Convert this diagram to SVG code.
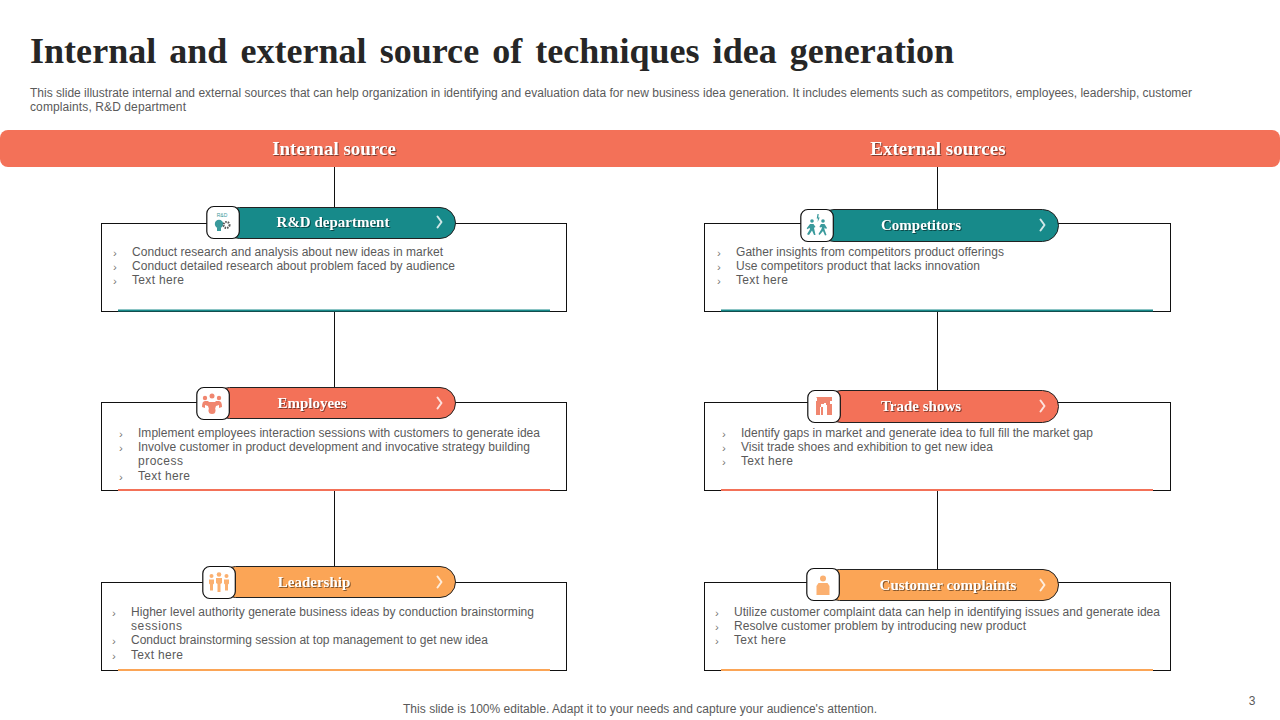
<svg xmlns="http://www.w3.org/2000/svg" width="1280" height="720" viewBox="0 0 1280 720">
<style>
.b{font-family:"Liberation Sans",Arial,sans-serif;font-size:12px;fill:#5a5a5a}
.s{font-family:"Liberation Sans",Arial,sans-serif;font-size:11.500px;fill:#777}
.h{font-family:"Liberation Serif","Times New Roman",serif;font-weight:700;fill:#fff;text-anchor:middle;filter:drop-shadow(1px 1px .7px #0007)}
.hh{font-size:19px}.hp{font-size:15px}
.c{fill:none;stroke:#fff;stroke-opacity:.8;stroke-width:2;stroke-linecap:round;stroke-linejoin:round}
.box{fill:#fff;stroke:#111;stroke-width:1}
.pill{stroke:#222;stroke-width:1}
.ib{fill:#fff;stroke:#111;stroke-width:1.200}
.con{stroke:#111;stroke-width:1;fill:none}
.teal{fill:#178A8A}.red{fill:#F37158}.org{fill:#FBA556}
.tealicon{fill:#3a9a9c}.redicon{fill:#f0866f}.orgicon{fill:#fbb070}
</style>
<rect width="1280" height="720" fill="#fff"/>
<text x="30" y="63" font-family="Liberation Serif,serif" font-weight="700" font-size="36" fill="#262626" word-spacing="4" textLength="924" lengthAdjust="spacing">Internal and external source of techniques idea generation</text>
<text x="30" y="97" class="b" textLength="1162">This slide illustrate internal and external sources that can help organization in identifying and evaluation data for new business idea generation. It includes elements such as competitors, employees, leadership, customer</text>
<text x="30" y="111" class="b" textLength="156">complaints, R&amp;D department</text>
<rect id="header-bar" x="0" y="130" width="1280" height="37" rx="8" class="red"/>
<text x="334" y="155" class="h hh">Internal source</text>
<text x="938" y="155" class="h hh">External sources</text>
<g id="connectors">
<path class="con" d="M334.500 167V207M334.500 312V387M334.500 491V567M937.500 167V209M937.500 312V390M937.500 491V569"/>
</g>

<g id="rd">
<rect class="box" x="101.500" y="223.500" width="465" height="88"/>
<rect x="118" y="309.500" width="432" height="2" class="teal"/>
<rect class="pill teal" x="224" y="207.500" width="231.500" height="31" rx="15.500"/>
<rect class="ib" x="206.800" y="206.500" width="32.500" height="32" rx="7"/>
<text x="222" y="216.500" font-family="Liberation Sans,sans-serif" font-size="5" fill="#3a9a9c" text-anchor="middle">R&amp;D</text>
<circle cx="219" cy="224" r="4.200" class="tealicon"/><rect x="217" y="228" width="4" height="3" class="tealicon"/><circle cx="226.500" cy="225" r="3" fill="none" stroke="#555" stroke-width="2" stroke-dasharray="1.500 1"/>
<text x="333" y="227" class="h hp">R&amp;D department</text>
<path class="c" d="M437.500 216.500l4 5.500-4 5.500"/>
<text x="113" y="257" class="s">›</text><text x="113" y="271" class="s">›</text><text x="113" y="285" class="s">›</text>
<text x="132" y="256" class="b" textLength="311">Conduct research and analysis about new ideas in market</text>
<text x="132" y="270" class="b" textLength="323">Conduct detailed research about problem faced by audience</text>
<text x="132" y="284" class="b" textLength="52">Text here</text>
</g>

<g id="employees">
<rect class="box" x="101.500" y="402.500" width="465" height="88"/>
<rect x="118" y="489" width="432" height="2" class="red"/>
<rect class="pill red" x="214" y="387.500" width="241.500" height="31" rx="15.500"/>
<rect class="ib" x="196.800" y="387.500" width="32.500" height="32" rx="7"/>
<g class="redicon"><circle cx="212" cy="396" r="2.500"/><circle cx="205" cy="398" r="2.200"/><circle cx="219" cy="398" r="2.200"/>
<path d="M202 407q0-6 3-6h3l1 1h6l1-1h3q3 0 3 6l-3 1v-3l-3 1-1 3h-6l-1-3-3-1v3z"/><circle cx="212" cy="410.500" r="3.500"/></g>
<text x="312" y="408" class="h hp">Employees</text>
<path class="c" d="M437.500 397.500l4 5.500-4 5.500"/>
<text x="119" y="438" class="s">›</text><text x="119" y="452" class="s">›</text><text x="119" y="481" class="s">›</text>
<text x="138" y="437" class="b" textLength="402">Implement employees interaction sessions with customers to generate idea</text>
<text x="138" y="451" class="b" textLength="392">Involve customer in product development and invocative strategy building</text>
<text x="138" y="465" class="b" textLength="45">process</text>
<text x="138" y="480" class="b" textLength="52">Text here</text>
</g>

<g id="leadership">
<rect class="box" x="101.500" y="582.500" width="465" height="88"/>
<rect x="118" y="669" width="432" height="2" class="org"/>
<rect class="pill org" x="220" y="566.500" width="235.500" height="31" rx="15.500"/>
<rect class="ib" x="202.800" y="566.500" width="32.500" height="32" rx="7"/>
<g class="orgicon"><circle cx="219" cy="574.500" r="2.300"/><circle cx="211.500" cy="576" r="2"/><circle cx="226.500" cy="576" r="2"/><path d="M216 578h6v5l-1.500 1v8h-3v-8l-1.500-1zM209 579.500h5v4l-1 1v6h-3v-6l-1-1zM224 579.500h5v4l-1 1v6h-3v-6l-1-1z"/></g>
<text x="314" y="587" class="h hp">Leadership</text>
<path class="c" d="M437.500 576.500l4 5.500-4 5.500"/>
<text x="112" y="617" class="s">›</text><text x="112" y="645" class="s">›</text><text x="112" y="660" class="s">›</text>
<text x="131" y="616" class="b" textLength="403">Higher level authority generate business ideas by conduction brainstorming</text>
<text x="131" y="630" class="b" textLength="51">sessions</text>
<text x="131" y="644" class="b" textLength="357">Conduct brainstorming session at top management to get new idea</text>
<text x="131" y="659" class="b" textLength="52">Text here</text>
</g>

<g id="competitors">
<rect class="box" x="704.500" y="223.500" width="466" height="88"/>
<rect x="721" y="309.500" width="432" height="2" class="teal"/>
<rect class="pill teal" x="818" y="209.500" width="240.500" height="32" rx="16"/>
<rect class="ib" x="800.800" y="209.500" width="32.500" height="32" rx="7"/>
<g class="tealicon"><path d="M817.500 214l1.200 0-.4 3.500 1.400 0-2 4.500.2-3.500h-1.200z"/><circle cx="812" cy="221" r="1.800"/><circle cx="823" cy="221" r="1.800"/><path d="M810 224l3.500 0 2 3-1.500.8 .5 2.500 1 4.700h-1.500l-2-4.500-3 4.500-2-.8 3-5-.5-1.500-2 1.500-.8-1zM821 224l3.500 0 2.500 4-1 1-1.500-1.500 0 2 2 5.500-1.500.5-2-4.500-3.500 4-1-1 3-5 .5-2-2 .5-.5-1z"/></g>
<text x="921" y="230" class="h hp">Competitors</text>
<path class="c" d="M1040.500 219.500l4 5.500-4 5.500"/>
<text x="717" y="257" class="s">›</text><text x="717" y="271" class="s">›</text><text x="717" y="285" class="s">›</text>
<text x="736" y="256" class="b" textLength="268">Gather insights from competitors product offerings</text>
<text x="736" y="270" class="b" textLength="244">Use competitors product that lacks innovation</text>
<text x="736" y="284" class="b" textLength="52">Text here</text>
</g>

<g id="trade-shows">
<rect class="box" x="704.500" y="402.500" width="466" height="88"/>
<rect x="721" y="489" width="432" height="2" class="red"/>
<rect class="pill red" x="825" y="390.500" width="233.500" height="32" rx="16"/>
<rect class="ib" x="807.800" y="390.500" width="32.500" height="32" rx="7"/>
<path class="redicon" d="M816 397h16v4h-2v3h2v11h-5v-10h-1v-2h-2v1h-3v11h-5v-14h1v-3zM820 407h3v8h-3z" fill-rule="evenodd"/>
<text x="921" y="411" class="h hp">Trade shows</text>
<path class="c" d="M1040.500 400.500l4 5.500-4 5.500"/>
<text x="722" y="438" class="s">›</text><text x="722" y="452" class="s">›</text><text x="722" y="466" class="s">›</text>
<text x="741" y="437" class="b" textLength="352">Identify gaps in market and generate idea to full fill the market gap</text>
<text x="741" y="451" class="b" textLength="252">Visit trade shoes and exhibition to get new idea</text>
<text x="741" y="465" class="b" textLength="52">Text here</text>
</g>

<g id="customer-complaints">
<rect class="box" x="704.500" y="582.500" width="466" height="88"/>
<rect x="721" y="669" width="432" height="2" class="org"/>
<rect class="pill org" x="824" y="569.500" width="234.500" height="31" rx="15.500"/>
<rect class="ib" x="806.800" y="568.500" width="32.500" height="32" rx="7"/>
<g class="orgicon"><circle cx="823" cy="578.500" r="3"/><path d="M818.500 583h9l2 3v9h-13v-9z"/></g>
<text x="948" y="590" class="h hp">Customer complaints</text>
<path class="c" d="M1040.500 579.500l4 5.500-4 5.500"/>
<text x="715" y="617" class="s">›</text><text x="715" y="631" class="s">›</text><text x="715" y="645" class="s">›</text>
<text x="734" y="616" class="b" textLength="426">Utilize customer complaint data can help in identifying issues and generate idea</text>
<text x="734" y="630" class="b" textLength="292">Resolve customer problem by introducing new product</text>
<text x="734" y="644" class="b" textLength="52">Text here</text>
</g>

<text x="403" y="713" class="b" textLength="474">This slide is 100% editable. Adapt it to your needs and capture your audience's attention.</text>
<text x="1252" y="705" class="b" text-anchor="middle">3</text>
</svg>
